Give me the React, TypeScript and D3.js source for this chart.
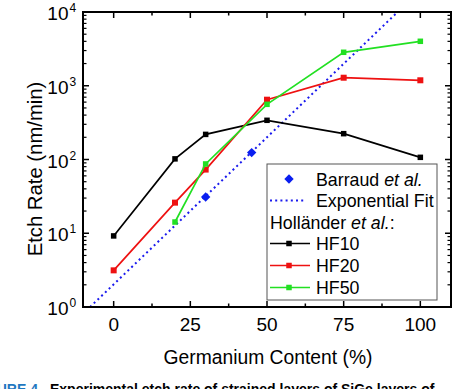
import React from "react";
import * as d3 from "d3";

const W = 474;
const H = 389;

const geContent = [0, 20, 30, 50, 75, 100];
const hf10 = [9.2, 102, 219, 340, 224, 107];
const hf20 = [3.14, 26, 73, 647, 1285, 1186];
const hf50X = [20, 30, 50, 75, 100];
const hf50 = [14.2, 87, 560, 2843, 4007];

const barraudX = [30, 45];
const barraudY = [31, 124];

const fitX = [-7.7, 92.6];
const fitY = [1, 10000];

const xTicks = [0, 25, 50, 75, 100];
const xMinor = [12.5, 37.5, 62.5, 87.5];
const yExps = [0, 1, 2, 3, 4];

const FONT = "'Liberation Sans', Arial, sans-serif";

const series = [
  { name: "HF10", color: "#000000", xs: geContent, ys: hf10, size: 5.5 },
  { name: "HF20", color: "#ee1111", xs: geContent, ys: hf20, size: 6 },
  { name: "HF50", color: "#22e022", xs: hf50X, ys: hf50, size: 5.5 },
];

export default function App() {
  const m = { left: 83, right: 451, top: 12, bottom: 307 };
  const x = d3.scaleLinear().domain([-10, 110]).range([m.left, m.right]);
  const y = d3.scaleLog().domain([1, 10000]).range([m.bottom, m.top]);

  const line = d3
    .line<[number, number]>()
    .x((d) => x(d[0]))
    .y((d) => y(d[1]));

  const yMinor: number[] = [];
  for (let e = 0; e < 4; e++) {
    for (let k = 2; k <= 9; k++) yMinor.push(k * Math.pow(10, e));
  }

  const diamond = d3.symbol().type(d3.symbolDiamond2).size(56)()!;

  // legend row centres
  const legRows = [179, 200.5, 222, 243.5, 265.5, 287.5];

  return (
    <svg
      width={W}
      height={H}
      style={{ position: "absolute", left: 0, top: 0, background: "#fff" }}
      fontFamily={FONT}
    >
      <defs>
        <clipPath id="plot-clip">
          <rect x={m.left} y={m.top} width={m.right - m.left} height={m.bottom - m.top} />
        </clipPath>
      </defs>

      {/* exponential fit */}
      <path
        d={line(fitX.map((v, i) => [v, fitY[i]]))!}
        fill="none"
        stroke="#1a1aee"
        strokeWidth={2}
        strokeDasharray="2 3.2"
        clipPath="url(#plot-clip)"
      />

      {/* Hollander series */}
      {series.map((s) => (
        <g key={s.name}>
          <path
            d={line(s.xs.map((v, i) => [v, s.ys[i]]))!}
            fill="none"
            stroke={s.color}
            strokeWidth={1.7}
          />
          {s.xs.map((v, i) => (
            <rect
              key={i}
              x={x(v) - s.size / 2}
              y={y(s.ys[i]) - s.size / 2}
              width={s.size}
              height={s.size}
              fill={s.color}
            />
          ))}
        </g>
      ))}

      {/* Barraud points */}
      {barraudX.map((v, i) => (
        <path
          key={i}
          d={diamond}
          transform={`translate(${x(v)},${y(barraudY[i])})`}
          fill="#0a1ef0"
        />
      ))}

      {/* frame */}
      <rect
        x={m.left}
        y={m.top}
        width={m.right - m.left}
        height={m.bottom - m.top}
        fill="none"
        stroke="#000"
        strokeWidth={2}
      />

      {/* x ticks */}
      {xTicks.map((t) => (
        <g key={t}>
          <line x1={x(t)} x2={x(t)} y1={m.bottom} y2={m.bottom - 6} stroke="#000" strokeWidth={1.5} />
          <line x1={x(t)} x2={x(t)} y1={m.top} y2={m.top + 6} stroke="#000" strokeWidth={1.5} />
          <text x={x(t)} y={331} textAnchor="middle" fontSize={19}>
            {t}
          </text>
        </g>
      ))}
      {xMinor.map((t) => (
        <g key={t}>
          <line x1={x(t)} x2={x(t)} y1={m.bottom} y2={m.bottom - 3.5} stroke="#000" strokeWidth={1.5} />
          <line x1={x(t)} x2={x(t)} y1={m.top} y2={m.top + 3.5} stroke="#000" strokeWidth={1.5} />
        </g>
      ))}

      {/* y ticks */}
      {yExps.map((e) => {
        const v = Math.pow(10, e);
        return (
          <g key={e}>
            <line x1={m.left} x2={m.left + 6} y1={y(v)} y2={y(v)} stroke="#000" strokeWidth={1.5} />
            <line x1={m.right} x2={m.right - 6} y1={y(v)} y2={y(v)} stroke="#000" strokeWidth={1.5} />
            <text x={68.5} y={y(v) + 8} textAnchor="end" fontSize={19}>
              10
            </text>
            <text x={69.5} y={y(v)} fontSize={12}>
              {e}
            </text>
          </g>
        );
      })}
      {yMinor.map((v) => (
        <g key={v}>
          <line x1={m.left} x2={m.left + 3.5} y1={y(v)} y2={y(v)} stroke="#000" strokeWidth={1.2} />
          <line x1={m.right} x2={m.right - 3.5} y1={y(v)} y2={y(v)} stroke="#000" strokeWidth={1.2} />
        </g>
      ))}

      {/* axis titles */}
      <text x={268} y={364} textAnchor="middle" fontSize={19.3}>
        Germanium Content (%)
      </text>
      <text transform="translate(42,169) rotate(-90)" textAnchor="middle" fontSize={20.3}>
        Etch Rate (nm/min)
      </text>

      {/* legend */}
      <rect x={267} y={164} width={170} height={136} fill="#fff" stroke="#555" strokeWidth={1} />
      <path d={diamond} transform={`translate(289,${legRows[0]})`} fill="#0a1ef0" />
      <text x={316} y={legRows[0] + 6.5} fontSize={17.8}>
        Barraud <tspan fontStyle="italic">et al.</tspan>
      </text>
      <line
        x1={270}
        x2={306}
        y1={legRows[1]}
        y2={legRows[1]}
        stroke="#1a1aee"
        strokeWidth={2}
        strokeDasharray="2 3.2"
      />
      <text x={316} y={legRows[1] + 6.5} fontSize={17.8}>
        Exponential Fit
      </text>
      <text x={270} y={legRows[2] + 6.5} fontSize={17.8}>
        Holländer <tspan fontStyle="italic">et al.</tspan>:
      </text>
      {series.map((s, i) => {
        const ry = legRows[3 + i];
        return (
          <g key={s.name}>
            <line x1={270} x2={310} y1={ry} y2={ry} stroke={s.color} strokeWidth={1.7} />
            <rect x={289 - 2.75} y={ry - 2.75} width={5.5} height={5.5} fill={s.color} />
            <text x={316} y={ry + 6.5} fontSize={17.8}>
              {s.name}
            </text>
          </g>
        );
      })}

      {/* cropped caption */}
      <text x={38} y={394} textAnchor="end" fontSize={14} fontWeight="bold" fill="#1f78c1">
        FIGURE 4
      </text>
      <text x={50} y={394} fontSize={14} fontWeight="bold" fill="#000">
        Experimental etch rate of strained layers of SiGe layers of
      </text>
    </svg>
  );
}
